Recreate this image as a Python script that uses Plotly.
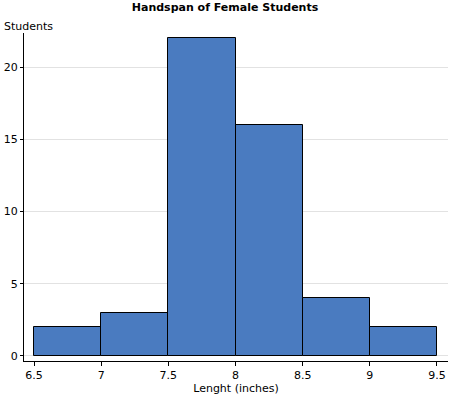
import plotly.graph_objects as go

bin_edges = [6.5, 7.0, 7.5, 8.0, 8.5, 9.0, 9.5]
counts = [2, 3, 22, 16, 4, 2]
x_ticks = [6.5, 7, 7.5, 8, 8.5, 9, 9.5]
x_tick_labels = ["6.5", "7", "7.5", "8", "8.5", "9", "9.5"]
y_ticks = [0, 5, 10, 15, 20]

centers = [(a + b) / 2 for a, b in zip(bin_edges[:-1], bin_edges[1:])]
widths = [b - a for a, b in zip(bin_edges[:-1], bin_edges[1:])]

font_family = "DejaVu Sans, Verdana, sans-serif"
fs = 11

fig = go.Figure(go.Bar(
    x=centers, y=counts, width=widths,
    marker=dict(color="#4a7bc0", line=dict(color="black", width=1)),
    hoverinfo="x+y",
))

fig.update_layout(
    width=450, height=397,
    margin=dict(l=24, r=2, t=33, b=36, autoexpand=False),
    plot_bgcolor="white", paper_bgcolor="white",
    font=dict(family=font_family, size=fs, color="black"),
    showlegend=False,
    bargap=0,
    title=dict(text="<b>Handspan of Female Students</b>", x=0.5, xanchor="center",
               y=0.982, yanchor="middle", font=dict(size=fs, family=font_family)),
    xaxis=dict(
        range=[6.4255, 9.582], tickvals=x_ticks, ticktext=x_tick_labels,
        showgrid=False, zeroline=False, showline=True, linecolor="black", linewidth=1,
        ticks="outside", ticklen=4, tickcolor="black", automargin=False,
        title=dict(text="Lenght (inches)", standoff=2, font=dict(size=fs)),
        tickfont=dict(size=fs),
    ),
    yaxis=dict(
        range=[-0.36, 22.37], tickvals=y_ticks,
        showgrid=True, gridcolor="#e2e2e2", gridwidth=1,
        zeroline=False, showline=True, linecolor="black", linewidth=1,
        ticks="outside", ticklen=3, tickcolor="black", automargin=False,
        tickfont=dict(size=fs),
    ),
    annotations=[dict(text="Students", xref="paper", yref="paper", x=-0.053, y=1.0,
                      xanchor="left", yanchor="bottom", showarrow=False,
                      font=dict(size=fs, family=font_family), yshift=-2)],
)

fig.write_html("out.html", config={"displayModeBar": False},
               post_script="document.body.style.margin='0px';document.body.style.overflow='hidden';")
